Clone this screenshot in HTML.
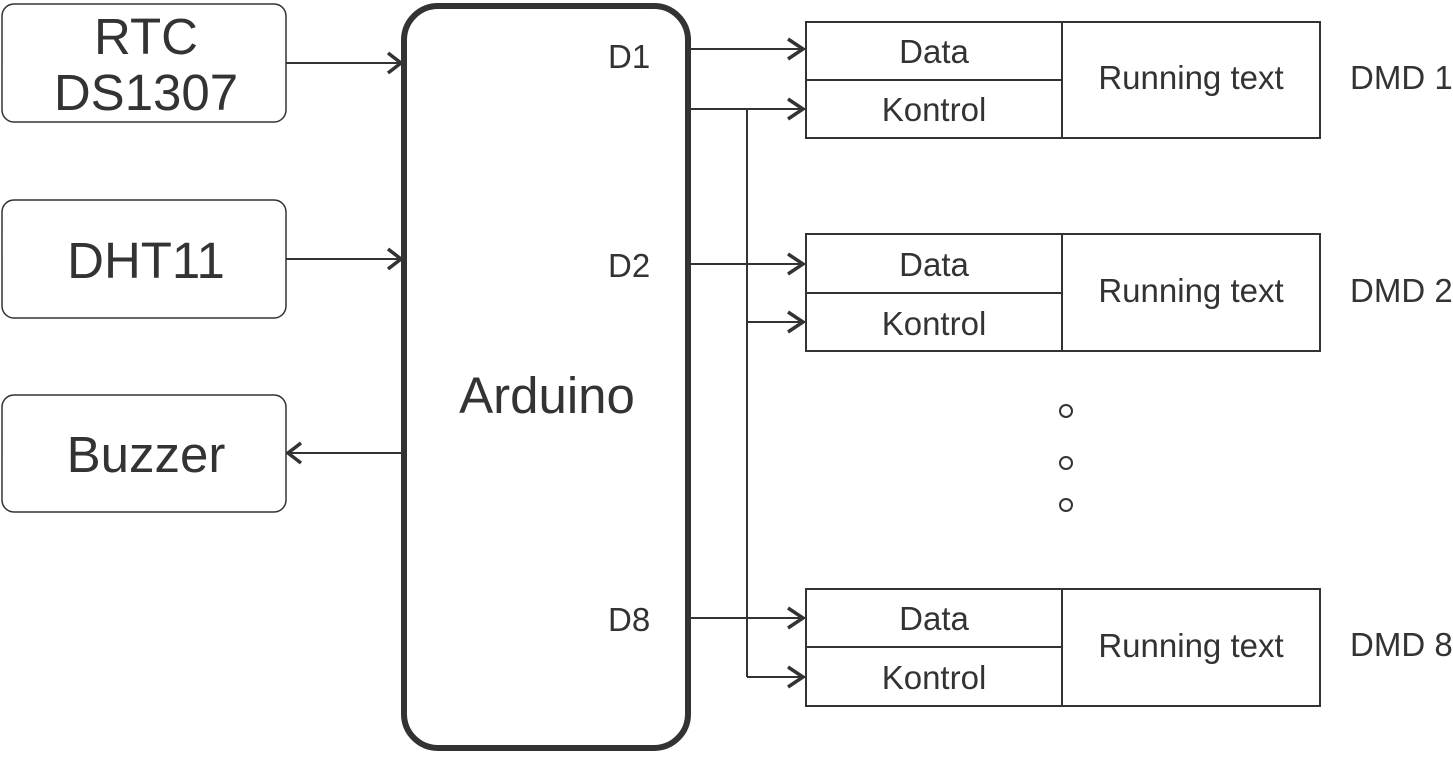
<!DOCTYPE html>
<html><head><style>body{margin:0;background:#fff} svg text{font-family:"Liberation Sans",Arial,sans-serif}</style></head><body>
<svg width="1453" height="754" xmlns="http://www.w3.org/2000/svg" fill="#333">
<g fill="none" stroke="#333">
<rect x="2" y="4" width="284" height="118" rx="12" stroke-width="1.5"/>
<rect x="2" y="200" width="284" height="118" rx="12" stroke-width="1.5"/>
<rect x="2" y="395" width="284" height="117" rx="12" stroke-width="1.5"/>
<rect x="404" y="6" width="284" height="742" rx="34" stroke-width="6"/>
<g stroke-width="2">
<rect x="806" y="22" width="514" height="116"/><line x1="806" y1="80" x2="1062" y2="80"/><line x1="1062" y1="22" x2="1062" y2="138"/>
<rect x="806" y="234" width="514" height="117"/><line x1="806" y1="293" x2="1062" y2="293"/><line x1="1062" y1="234" x2="1062" y2="351"/>
<rect x="806" y="589" width="514" height="117"/><line x1="806" y1="647" x2="1062" y2="647"/><line x1="1062" y1="589" x2="1062" y2="706"/>
<line x1="286" y1="63" x2="402" y2="63"/><line x1="286" y1="259" x2="402" y2="259"/><line x1="288" y1="453" x2="402" y2="453"/>
<line x1="690" y1="49" x2="805" y2="49"/><line x1="690" y1="109" x2="805" y2="109"/>
<line x1="747" y1="109" x2="747" y2="677"/>
<line x1="690" y1="264" x2="805" y2="264"/><line x1="747" y1="322" x2="805" y2="322"/>
<line x1="690" y1="618" x2="805" y2="618"/><line x1="747" y1="677" x2="805" y2="677"/>
</g>
<g stroke-width="3.5">
<polyline points="388,53 401,63 388,73"/><polyline points="388,249 401,259 388,269"/><polyline points="301,443 288,453 301,463"/>
<polyline points="788,39 803,49 788,59"/><polyline points="788,99 803,109 788,119"/>
<polyline points="788,254 803,264 788,274"/><polyline points="788,312 803,322 788,332"/>
<polyline points="788,608 803,618 788,628"/><polyline points="788,667 803,677 788,687"/>
</g>
<g stroke-width="2"><circle cx="1066" cy="411" r="6"/><circle cx="1066" cy="463" r="6"/><circle cx="1066" cy="505" r="6"/></g>
</g>
<g font-size="51" text-anchor="middle">
<text x="146" y="54">RTC</text><text x="146" y="110">DS1307</text>
<text x="146" y="278">DHT11</text><text x="146" y="472">Buzzer</text>
<text x="547" y="413">Arduino</text>
</g>
<g font-size="33">
<text x="608" y="68">D1</text><text x="608" y="277">D2</text><text x="608" y="631">D8</text>
<g text-anchor="middle">
<text x="934" y="63">Data</text><text x="934" y="121">Kontrol</text><text x="1191" y="89">Running text</text>
<text x="934" y="276">Data</text><text x="934" y="335">Kontrol</text><text x="1191" y="302">Running text</text>
<text x="934" y="630">Data</text><text x="934" y="689">Kontrol</text><text x="1191" y="657">Running text</text>
</g>
<text x="1350" y="89">DMD 1</text><text x="1350" y="302">DMD 2</text><text x="1350" y="656">DMD 8</text>
</g>
</svg>
</body></html>
